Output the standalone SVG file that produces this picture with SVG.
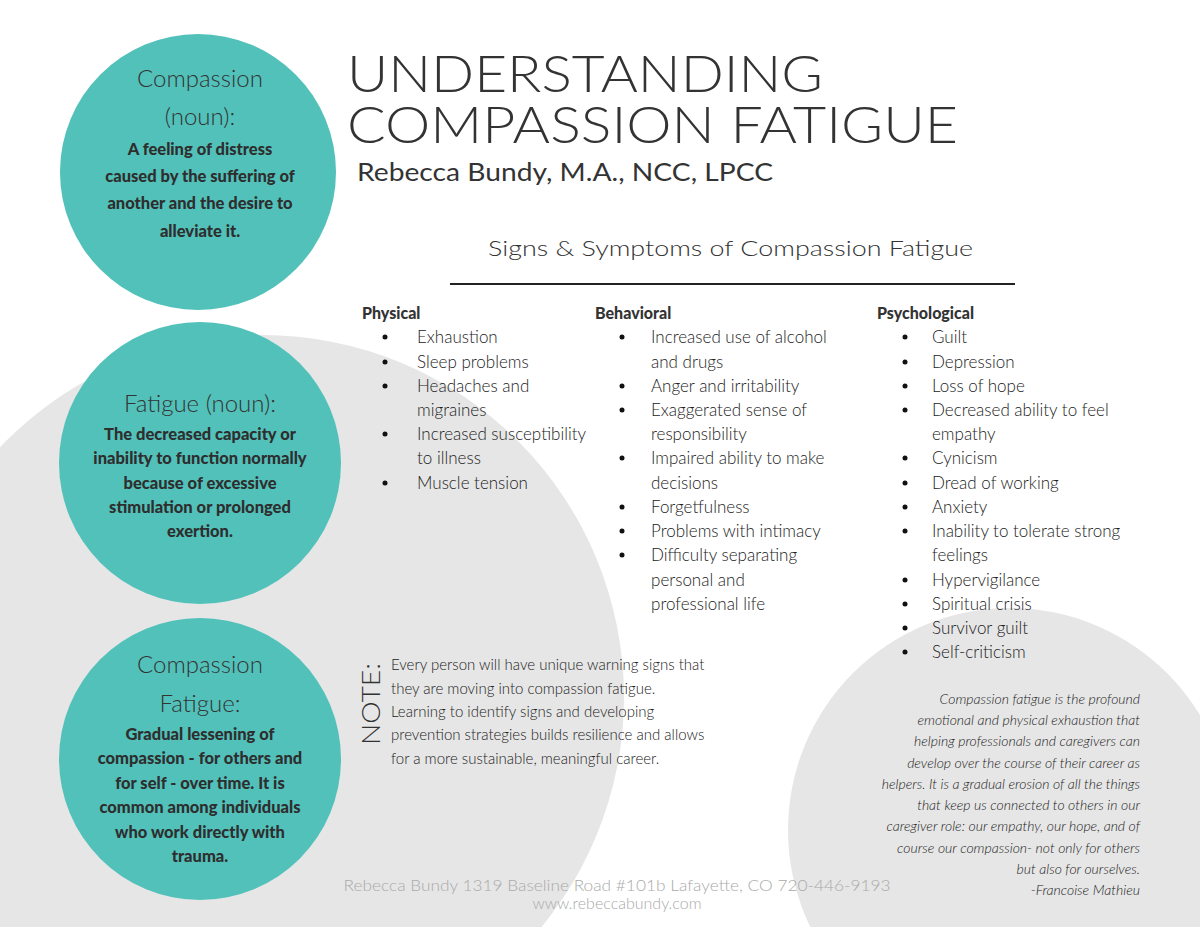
<svg xmlns="http://www.w3.org/2000/svg" width="1200" height="927" viewBox="0 0 1200 927">
<style>
text{font-family:Lato,"Open Sans","Liberation Sans",sans-serif;fill:#333}
.t{font-weight:300;font-size:52px;fill:#333}
.ch{font-size:24px;font-weight:300;text-anchor:middle;fill:#333}
.cb{font-size:16.5px;font-weight:900;text-anchor:middle;fill:#2e2e2e}
.h{font-size:16px;font-weight:900}
.li{font-size:17px;font-weight:300;fill:#222}
.n{font-size:15px;font-weight:300;fill:#222}
.q{font-size:14px;font-style:italic;font-weight:300;text-anchor:end;fill:#222}
.f{font-size:16px;fill:#aaa;text-anchor:middle;font-weight:300}
.teal{fill:#52c1ba}
</style>
<rect width="1200" height="927" fill="#fff"/>
<circle cx="262" cy="697" r="362" fill="#e6e6e6"/>
<circle cx="1010" cy="830" r="222" fill="#e6e6e6"/>
<g id="node-compassion">
<circle class="teal" cx="198" cy="172" r="138"/>
<text class="ch" x="200" y="87">Compassion</text>
<text class="ch" x="200" y="125">(noun):</text>
<text class="cb" x="200" y="155">A feeling of distress</text>
<text class="cb" x="200" y="182">caused by the suffering of</text>
<text class="cb" x="200" y="209">another and the desire to</text>
<text class="cb" x="200" y="237">alleviate it.</text>
</g>
<g id="node-fatigue">
<circle class="teal" cx="200" cy="463" r="141"/>
<text class="ch" x="200" y="412">Fatigue (noun):</text>
<text class="cb" x="200" y="440">The decreased capacity or</text>
<text class="cb" x="200" y="464">inability to function normally</text>
<text class="cb" x="200" y="489">because of excessive</text>
<text class="cb" x="200" y="513">stimulation or prolonged</text>
<text class="cb" x="200" y="537">exertion.</text>
</g>
<g id="node-cf">
<circle class="teal" cx="200" cy="759" r="141"/>
<text class="ch" x="200" y="673">Compassion</text>
<text class="ch" x="200" y="712">Fatigue:</text>
<text class="cb" x="200" y="740">Gradual lessening of</text>
<text class="cb" x="200" y="764">compassion - for others and</text>
<text class="cb" x="200" y="789">for self - over time. It is</text>
<text class="cb" x="200" y="813">common among individuals</text>
<text class="cb" x="200" y="838">who work directly with</text>
<text class="cb" x="200" y="862">trauma.</text>
</g>
<g id="title">
<text class="t" x="347" y="92" textLength="476" lengthAdjust="spacingAndGlyphs">UNDERSTANDING</text>
<text class="t" x="347" y="143" textLength="611" lengthAdjust="spacingAndGlyphs">COMPASSION FATIGUE</text>
<text x="357" y="181" style="font-size:25px" textLength="416" lengthAdjust="spacingAndGlyphs">Rebecca Bundy, M.A., NCC, LPCC</text>
<text x="488" y="256" style="font-size:22px;font-weight:300" textLength="485" lengthAdjust="spacingAndGlyphs">Signs &amp; Symptoms of Compassion Fatigue</text>
<line x1="450" y1="284" x2="1015" y2="284" stroke="#222" stroke-width="2"/>
</g>
<g id="lists">
<text class="h" x="362" y="319">Physical</text>
<text class="h" x="595" y="319">Behavioral</text>
<text class="h" x="877" y="319">Psychological</text>
<g class="li">
<text class="li" x="417" y="343">Exhaustion</text>
<text class="li" x="417" y="368">Sleep problems</text>
<text class="li" x="417" y="392">Headaches and</text>
<text class="li" x="417" y="416">migraines</text>
<text class="li" x="417" y="440">Increased susceptibility</text>
<text class="li" x="417" y="464">to illness</text>
<text class="li" x="417" y="489">Muscle tension</text>
<text class="li" x="651" y="343">Increased use of alcohol</text>
<text class="li" x="651" y="368">and drugs</text>
<text class="li" x="651" y="392">Anger and irritability</text>
<text class="li" x="651" y="416">Exaggerated sense of</text>
<text class="li" x="651" y="440">responsibility</text>
<text class="li" x="651" y="464">Impaired ability to make</text>
<text class="li" x="651" y="489">decisions</text>
<text class="li" x="651" y="513">Forgetfulness</text>
<text class="li" x="651" y="537">Problems with intimacy</text>
<text class="li" x="651" y="561">Difficulty separating</text>
<text class="li" x="651" y="586">personal and</text>
<text class="li" x="651" y="610">professional life</text>
<text class="li" x="932" y="343">Guilt</text>
<text class="li" x="932" y="368">Depression</text>
<text class="li" x="932" y="392">Loss of hope</text>
<text class="li" x="932" y="416">Decreased ability to feel</text>
<text class="li" x="932" y="440">empathy</text>
<text class="li" x="932" y="464">Cynicism</text>
<text class="li" x="932" y="489">Dread of working</text>
<text class="li" x="932" y="513">Anxiety</text>
<text class="li" x="932" y="537">Inability to tolerate strong</text>
<text class="li" x="932" y="561">feelings</text>
<text class="li" x="932" y="586">Hypervigilance</text>
<text class="li" x="932" y="610">Spiritual crisis</text>
<text class="li" x="932" y="634">Survivor guilt</text>
<text class="li" x="932" y="658">Self-criticism</text>
</g>
<g fill="#111">
<circle cx="385" cy="337" r="2.5"/><circle cx="385" cy="362" r="2.5"/><circle cx="385" cy="386" r="2.5"/><circle cx="385" cy="434" r="2.5"/><circle cx="385" cy="483" r="2.5"/>
<circle cx="622" cy="337" r="2.5"/><circle cx="622" cy="386" r="2.5"/><circle cx="622" cy="410" r="2.5"/><circle cx="622" cy="458" r="2.5"/><circle cx="622" cy="507" r="2.5"/><circle cx="622" cy="531" r="2.5"/><circle cx="622" cy="555" r="2.5"/>
<circle cx="905" cy="337" r="2.5"/><circle cx="905" cy="362" r="2.5"/><circle cx="905" cy="386" r="2.5"/><circle cx="905" cy="410" r="2.5"/><circle cx="905" cy="458" r="2.5"/><circle cx="905" cy="483" r="2.5"/><circle cx="905" cy="507" r="2.5"/><circle cx="905" cy="531" r="2.5"/><circle cx="905" cy="580" r="2.5"/><circle cx="905" cy="604" r="2.5"/><circle cx="905" cy="628" r="2.5"/><circle cx="905" cy="652" r="2.5"/>
</g>
</g>
<g id="note">
<text x="380" y="745" transform="rotate(-90 380 745)" style="font-size:25px;font-weight:300" textLength="82" lengthAdjust="spacingAndGlyphs">NOTE:</text>
<text class="n" x="391" y="670">Every person will have unique warning signs that</text>
<text class="n" x="391" y="694">they are moving into compassion fatigue.</text>
<text class="n" x="391" y="717">Learning to identify signs and developing</text>
<text class="n" x="391" y="740">prevention strategies builds resilience and allows</text>
<text class="n" x="391" y="764">for a more sustainable, meaningful career.</text>
</g>
<g id="quote">
<text class="q" x="1140" y="704">Compassion fatigue is the profound</text>
<text class="q" x="1140" y="725">emotional and physical exhaustion that</text>
<text class="q" x="1140" y="746">helping professionals and caregivers can</text>
<text class="q" x="1140" y="768">develop over the course of their career as</text>
<text class="q" x="1140" y="789">helpers. It is a gradual erosion of all the things</text>
<text class="q" x="1140" y="810">that keep us connected to others in our</text>
<text class="q" x="1140" y="831">caregiver role: our empathy, our hope, and of</text>
<text class="q" x="1140" y="853">course our compassion- not only for others</text>
<text class="q" x="1140" y="874">but also for ourselves.</text>
<text class="q" x="1140" y="895">-Francoise Mathieu</text>
</g>
<g id="footer">
<text class="f" x="617" y="891" textLength="547" lengthAdjust="spacingAndGlyphs">Rebecca Bundy 1319 Baseline Road #101b  Lafayette, CO 720-446-9193</text>
<text class="f" x="617" y="909">www.rebeccabundy.com</text>
</g>
</svg>
